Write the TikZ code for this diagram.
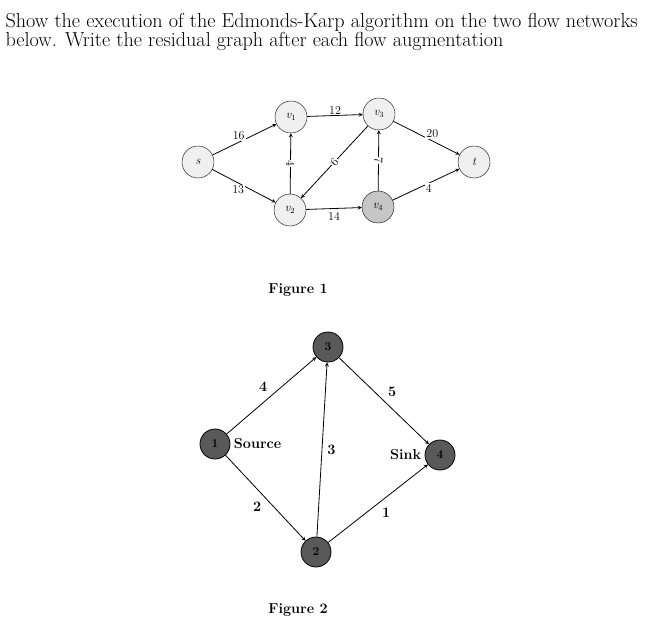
\documentclass[tikz,border=0pt]{standalone}
\usetikzlibrary{arrows,shapes,positioning}
\tikzset{
  vtx/.style={circle,draw,fill=gray!12,minimum size=32pt,inner sep=0pt,font=\large\itshape},
  gvtx/.style={vtx,fill=gray!45},
  dvtx/.style={circle,draw,thick,fill=gray!70!black,minimum size=30pt,inner sep=0pt,font=\bfseries\large},
  arc/.style={->,>=stealth,thick},
  lbl/.style={font=\large,fill=white,inner sep=1pt},
  blbl/.style={font=\bfseries\Large,inner sep=1pt}
}
\begin{document}
\begin{tikzpicture}[x=1pt,y=-1pt]
\useasboundingbox (0,0) rectangle (664,626);
\node[anchor=west,font=\fontsize{20.2}{23}\selectfont] (l1) at (2,22) {Show the execution of the Edmonds-Karp algorithm on the two flow networks};
\node[anchor=west,font=\fontsize{20.2}{23}\selectfont] (l2) at (2,41) {below. Write the residual graph after each flow augmentation};
% figure 1
\node[vtx] (s) at (198,162) {s};
\node[vtx] (v1) at (291,117) {v$_1$};
\node[vtx] (v3) at (379,114) {v$_3$};
\node[vtx] (t) at (474,162) {t};
\node[vtx] (v2) at (290,210) {v$_2$};
\node[gvtx] (v4) at (378,207) {v$_4$};
\draw[arc] (s) -- node[lbl,above left=-2pt] {16} (v1);
\draw[arc] (s) -- node[lbl,below left=-2pt] {13} (v2);
\draw[arc] (v1) -- node[lbl,above] {12} (v3);
\draw[arc] (v2) -- node[lbl,rotate=-90] {4} (v1);
\draw[arc] (v3) -- node[lbl,rotate=-130] {9} (v2);
\draw[arc] (v2) -- node[lbl,below=2pt] {14} (v4);
\draw[arc] (v4) -- node[lbl,rotate=-90] {7} (v3);
\draw[arc] (v3) -- node[lbl,above right=-2pt] {20} (t);
\draw[arc] (v4) -- node[lbl,below right=-2pt] {4} (t);
\node[font=\bfseries\Large] (f1) at (298,290) {Figure 1};
% figure 2
\node[dvtx] (n3) at (328,347) {3};
\node[dvtx] (n1) at (215,444) {1};
\node[dvtx] (n4) at (440,455) {4};
\node[dvtx] (n2) at (316,552) {2};
\draw[arc] (n1) -- node[blbl,above left=4pt] {4} (n3);
\draw[arc] (n1) -- node[blbl,below left=4pt] {2} (n2);
\draw[arc] (n2) -- node[blbl,right=4pt] {3} (n3);
\draw[arc] (n3) -- node[blbl,above right=4pt] {5} (n4);
\draw[arc] (n2) -- node[blbl,below right=4pt] {1} (n4);
\node[font=\bfseries\Large,right=0pt of n1] (src) {Source};
\node[font=\bfseries\Large,left=0pt of n4] (snk) {Sink};
\node[font=\bfseries\Large] (f2) at (298,610) {Figure 2};
\end{tikzpicture}
\end{document}
